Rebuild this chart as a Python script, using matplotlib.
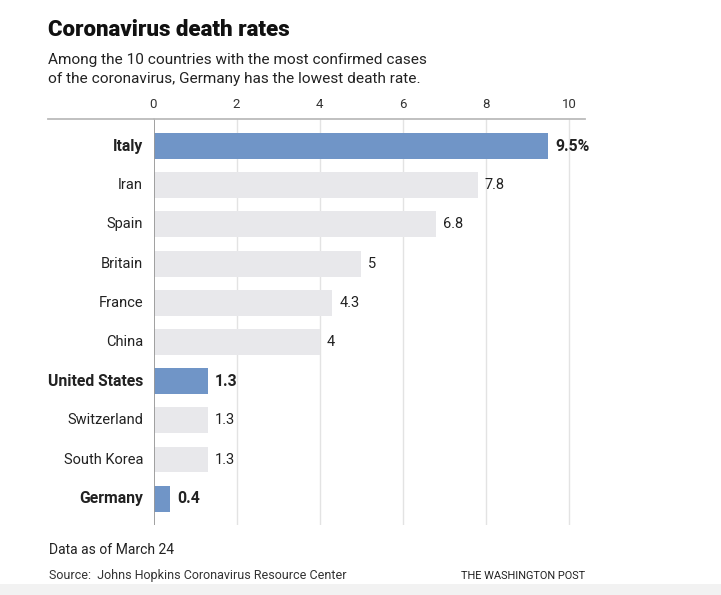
import matplotlib.pyplot as plt
from matplotlib.lines import Line2D
from matplotlib.patches import Rectangle

countries = ['Italy', 'Iran', 'Spain', 'Britain', 'France', 'China',
             'United States', 'Switzerland', 'South Korea', 'Germany']
rates = [9.5, 7.8, 6.8, 5, 4.3, 4, 1.3, 1.3, 1.3, 0.4]
value_labels = ['9.5%', '7.8', '6.8', '5', '4.3', '4', '1.3', '1.3', '1.3', '0.4']
highlight = ['Italy', 'United States', 'Germany']
ticks = [0, 2, 4, 6, 8, 10]

W, H = 721, 595
fig = plt.figure(figsize=(W / 100, H / 100), dpi=100)
plt.rcParams['font.family'] = ['Roboto', 'DejaVu Sans']

# axes: x 0 at px 153.5, 10 at px 569 ; top 119, bottom 525
px_per = (569 - 153.5) / 10
x_right = 10 + (585 - 569) / px_per
left = 153.5 / W
width = (585 - 153.5) / W
ax = fig.add_axes([left, 1 - 525 / H, width, (525 - 119) / H])

blue = '#7095c7'
grey = '#e8e8eb'
colors = [blue if c in highlight else grey for c in countries]
ypos = list(range(len(countries)))
ax.barh(ypos, rates, height=0.66, color=colors, zorder=2)

ax.set_xlim(0, x_right)
ax.set_ylim(9.67, -0.69)
ax.set_xticks(ticks)
ax.xaxis.tick_top()
ax.tick_params(axis='x', length=0, pad=6, labelsize=9.5, labelcolor='#333333')
ax.set_yticks([])
for t in ticks:
    ax.axvline(t, color='#e3e3e3' if t else '#999999', lw=1 if t else 1.3,
               zorder=1 if t else 3)
for s in ['left', 'right', 'bottom']:
    ax.spines[s].set_visible(False)
ax.spines['top'].set_color('#bbbbbb')
ax.spines['top'].set_linewidth(1.3)

# extend the top rule to the left margin
fig.add_artist(Line2D([48 / W, 154 / W], [1 - 119 / H, 1 - 119 / H],
                      color='#bbbbbb', lw=1.3))

for y, c, v, lab in zip(ypos, countries, rates, value_labels):
    bold = c in highlight
    fs = 11.3 if bold else 10.5
    ax.text(-0.25, y, c, ha='right', va='center', fontsize=fs,
            fontweight='bold' if bold else 'normal', color='#222222')
    ax.text(v + 0.17, y, lab, ha='left', va='center', fontsize=fs,
            fontweight='bold' if bold else 'normal', color='#222222')

fig.text(48 / W, 1 - 30 / H, 'Coronavirus death rates', fontsize=16,
         fontweight='heavy', va='center', color='#111111')
fig.text(48 / W, 1 - 60 / H, 'Among the 10 countries with the most confirmed cases',
         fontsize=11.1, va='center', color='#222222')
fig.text(48 / W, 1 - 79 / H, 'of the coronavirus, Germany has the lowest death rate.',
         fontsize=11.1, va='center', color='#222222')

fig.text(49 / W, 1 - 550 / H, 'Data as of March 24', fontsize=10, va='center',
         color='#222222')
fig.text(49 / W, 1 - 576 / H, 'Source:  Johns Hopkins Coronavirus Resource Center',
         fontsize=9, va='center', color='#333333')
fig.text(585 / W, 1 - 576 / H, 'THE WASHINGTON POST', fontsize=7.9, va='center',
         ha='right', color='#222222')

fig.add_artist(Rectangle((0, 0), 1, 11 / H, transform=fig.transFigure,
                         color='#f2f2f2', lw=0))

fig.savefig('out.png', dpi=100)
